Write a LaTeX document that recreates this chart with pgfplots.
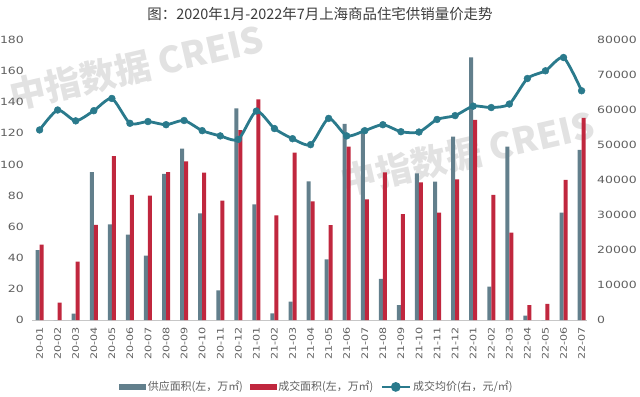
\documentclass[border=0pt]{standalone}
\usepackage{fontspec}
\usepackage{pgfplots}
\usepackage{pgfplotstable}
\pgfplotsset{compat=1.18}
\setmainfont{Noto Sans CJK SC}
\newfontfamily\numfont[FakeStretch=1.25]{DejaVu Sans}
\definecolor{supply}{RGB}{98,127,140}
\definecolor{deal}{RGB}{192,39,62}
\definecolor{price}{RGB}{42,122,140}
\definecolor{ticktext}{RGB}{95,95,95}
\definecolor{titletext}{RGB}{60,60,60}
\definecolor{wm}{RGB}{226,226,226}

\pgfplotstableread{
x supply deal price
0 45 48.4 54300
1 0 11.1 60000
2 4.1 37.5 56900
3 95.1 61.1 59800
4 61.5 105.4 63300
5 54.9 80.4 56200
6 41.4 79.9 56700
7 93.9 95.1 55800
8 110.1 102 57000
9 68.6 94.7 54100
10 19.1 76.7 52600
11 136.1 122.1 51600
12 74.4 141.9 59700
13 4.3 67.3 54700
14 11.8 107.6 51800
15 89.1 76.3 50100
16 39 61 57600
17 126 111.4 52600
18 123 77.6 54100
19 26.4 94.9 55800
20 9.6 68.1 53800
21 94.3 88.5 53700
22 88.9 69 57300
23 117.9 90.4 58400
24 168.9 128.6 61100
25 21.4 80.4 60700
26 111.4 56.1 61700
27 2.8 9.6 69000
28 0 10.3 71200
29 69 90 75000
30 109.3 130 65500
}\datatable

\begin{document}
\begin{tikzpicture}
\useasboundingbox (-32bp,-77bp) rectangle (608bp,320bp);
\node[rotate=13, text=wm, font=\fontsize{36}{40}\selectfont\bfseries] at (105bp,253bp) {中指数据 CREIS};
\node[rotate=13, text=wm, font=\fontsize{36}{40}\selectfont\bfseries] at (436bp,167bp) {中指数据 CREIS};
\node[font=\fontsize{14.5}{16}\selectfont, text=titletext] at (288bp,306bp) {图：2020年1月-2022年7月上海商品住宅供销量价走势};

\begin{axis}[
  at={(0,0)}, anchor=south west, scale only axis,
  width=555bp, height=280bp,
  xmin=-0.42, xmax=30.3, ymin=0, ymax=180,
  ybar, bar width=4bp,
  xtick={0,...,30},
  xticklabels={20-01,20-02,20-03,20-04,20-05,20-06,20-07,20-08,20-09,20-10,20-11,20-12,21-01,21-02,21-03,21-04,21-05,21-06,21-07,21-08,21-09,21-10,21-11,21-12,22-01,22-02,22-03,22-04,22-05,22-06,22-07},
  x tick label style={rotate=90, anchor=east, inner xsep=7bp, font=\numfont\fontsize{9}{10}\selectfont, text=ticktext},
  ytick={0,20,...,180},
  y tick label style={anchor=east, inner xsep=8bp, font=\numfont\fontsize{10}{11}\selectfont, text=ticktext},
  /pgf/number format/assume math mode=true,
  axis x line*=bottom, axis y line*=left,
  y axis line style={draw=none},
  x axis line style={draw=black!22, line width=0.8bp, -},
  major tick length=0pt,
]
\addplot[fill=supply, draw=none, bar shift=-2bp] table[x=x,y=supply]{\datatable};
\addplot[fill=deal, draw=none, bar shift=2bp] table[x=x,y=deal]{\datatable};
\end{axis}

\begin{axis}[
  at={(0,0)}, anchor=south west, scale only axis,
  width=555bp, height=280bp,
  xmin=-0.42, xmax=30.3, ymin=0, ymax=80000,
  axis x line=none, axis y line*=right,
  y axis line style={draw=none},
  major tick length=0pt,
  ytick={0,10000,...,80000},
  scaled y ticks=false,
  /pgf/number format/assume math mode=true,
  /pgf/number format/1000 sep={},
  y tick label style={anchor=west, inner xsep=10bp, font=\numfont\fontsize{10}{11}\selectfont, text=ticktext},
  legend columns=3,
  legend style={draw=none, fill=none, at={(0.5135,-0.239)}, anchor=center,
    font=\fontsize{11}{12}\selectfont, text=ticktext,
    /tikz/every even column/.append style={column sep=5bp}},
  legend cell align=left,
]
\addlegendimage{legend image code/.code={\fill[supply] (0bp,-2.6bp) rectangle (26bp,2.6bp);}}
\addlegendentry{供应面积(左，万㎡)}
\addlegendimage{legend image code/.code={\fill[deal] (0bp,-2.6bp) rectangle (26bp,2.6bp);}}
\addlegendentry{成交面积(左，万㎡)}
\addplot[price, line width=2.8bp, smooth, tension=0.4, mark=*, mark size=3.4bp,
  mark options={fill=price, draw=price, line width=0.5bp},
  legend image code/.code={\draw[price, line width=2.8bp] (0bp,0bp) -- (28bp,0bp); \fill[price] (14bp,0bp) circle (3.4bp);}]
  table[x=x,y=price]{\datatable};
\addlegendentry{成交均价(右，元/㎡)}
\end{axis}
\end{tikzpicture}
\end{document}
